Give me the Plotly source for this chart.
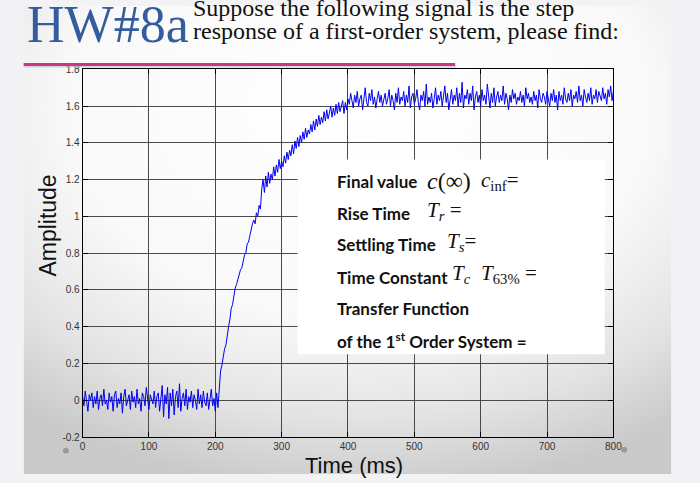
import base64
import plotly.graph_objects as go

# ---------------- data ----------------
time_step_ms = 2
baseline = [
    0.02, -0.03, 0.05, -0.01, -0.06, 0.03, 0.00, 0.04, -0.04, 0.02,
    -0.02, 0.05, -0.05, 0.01, 0.03, -0.03, 0.06, -0.02, 0.00, -0.05,
    0.04, -0.01, 0.02, -0.06, 0.03, 0.05, -0.04, 0.01, -0.02, 0.04,
    -0.07, 0.02, 0.06, -0.03, 0.00, 0.03, -0.05, 0.05, -0.01, 0.02,
    -0.04, 0.06, -0.02, 0.01, -0.06, 0.04, 0.02, -0.03, 0.07, -0.01,
    -0.05, 0.03, 0.00, -0.02, 0.05, -0.04, 0.02, 0.04, -0.06, 0.01,
    0.08, -0.09, 0.03, -0.02, 0.07, -0.10, 0.04, -0.03, 0.06, -0.08,
    0.02, 0.05, -0.04, 0.09, -0.06, 0.01, 0.04, -0.03, 0.06, -0.05,
    0.02, -0.01, 0.05, -0.04, 0.03, 0.00, -0.05, 0.06, -0.02, 0.03,
    -0.04, 0.05, -0.01, -0.03, 0.04, -0.05, 0.02, 0.06, -0.03, 0.01,
    -0.06, 0.04, -0.04,
]
rise = [
    0.10, 0.16, 0.19, 0.25, 0.28, 0.30, 0.36, 0.40, 0.44, 0.50,
    0.52, 0.58, 0.61, 0.63, 0.66, 0.68, 0.71, 0.72, 0.76, 0.79,
    0.80, 0.85, 0.86, 0.90, 0.93, 0.96, 0.98, 0.96, 1.02, 1.00,
    1.06, 1.04, 1.15,
]
approach = [
    1.20, 1.13, 1.22, 1.16, 1.24, 1.18, 1.23, 1.20, 1.27, 1.22,
    1.28, 1.24, 1.31, 1.26, 1.30, 1.27, 1.33, 1.29, 1.35, 1.31,
    1.36, 1.33, 1.39, 1.34, 1.41, 1.37, 1.43, 1.38, 1.44, 1.40,
    1.46, 1.42, 1.48, 1.43, 1.47, 1.45, 1.50, 1.46, 1.52, 1.47,
    1.53, 1.49, 1.55, 1.50, 1.54, 1.51, 1.57, 1.52, 1.58, 1.53,
    1.56, 1.60, 1.54, 1.59, 1.55, 1.61, 1.56, 1.62, 1.57, 1.60,
    1.63, 1.56, 1.62, 1.58, 1.64,
]
plateau = [
    1.61, 1.67, 1.63, 1.59, 1.66, 1.62, 1.68, 1.60, 1.64, 1.66,
    1.58, 1.65, 1.70, 1.62, 1.60, 1.67, 1.63, 1.69, 1.61, 1.65,
    1.59, 1.64, 1.68, 1.62, 1.66, 1.60, 1.63, 1.67, 1.61, 1.64,
    1.69, 1.60, 1.66, 1.63, 1.58, 1.67, 1.62, 1.70, 1.61, 1.65,
    1.63, 1.68, 1.60, 1.66, 1.62, 1.71, 1.59, 1.65, 1.67, 1.61,
    1.64, 1.69, 1.62, 1.58, 1.66, 1.63, 1.68, 1.60, 1.72, 1.61,
    1.65, 1.62, 1.67, 1.59, 1.64, 1.70, 1.61, 1.66, 1.63, 1.68,
    1.60, 1.65, 1.71, 1.62, 1.67, 1.58, 1.64, 1.69, 1.61, 1.66,
    1.63, 1.70, 1.60, 1.67, 1.62, 1.73, 1.59, 1.66, 1.64, 1.69,
    1.61, 1.67, 1.63, 1.71, 1.58, 1.65, 1.68, 1.62, 1.66, 1.60,
    1.69, 1.63, 1.66, 1.61, 1.72, 1.64, 1.59, 1.67, 1.62, 1.70,
    1.60, 1.65, 1.68, 1.62, 1.66, 1.63, 1.71, 1.61, 1.67, 1.64,
    1.58, 1.66, 1.62, 1.69, 1.64, 1.67, 1.61, 1.65, 1.63, 1.68,
    1.62, 1.66, 1.60, 1.70, 1.64, 1.67, 1.62, 1.65, 1.61, 1.68,
    1.63, 1.66, 1.59, 1.69, 1.64, 1.62, 1.67, 1.65, 1.61, 1.68,
    1.64, 1.60, 1.67, 1.63, 1.69, 1.62, 1.66, 1.58, 1.68, 1.63,
    1.66, 1.61, 1.70, 1.64, 1.62, 1.67, 1.63, 1.69, 1.60, 1.66,
    1.64, 1.68, 1.62, 1.71, 1.63, 1.66, 1.60, 1.69, 1.65, 1.62,
    1.67, 1.63, 1.70, 1.61, 1.66, 1.64, 1.69, 1.62, 1.68, 1.65,
    1.63, 1.70, 1.64, 1.67, 1.61, 1.69, 1.65, 1.71, 1.63, 1.68,
]
amplitude = baseline + rise + approach + plateau
time_ms = [i * time_step_ms for i in range(len(amplitude))]

x_ticks = [0, 100, 200, 300, 400, 500, 600, 700, 800]
x_ticklabels = ["0", "100", "200", "300", "400", "500", "600", "700", "800"]
y_ticks = [-0.2, 0, 0.2, 0.4, 0.6, 0.8, 1.0, 1.2, 1.4, 1.6, 1.8]
y_ticklabels = ["-0.2", "0", "0.2", "0.4", "0.6", "0.8", "1", "1.2", "1.4", "1.6", "1.8"]

# ---------------- layout helpers ----------------
W, H = 700, 483


def PX(x):
    return x / W


def PY(y):
    return 1 - y / H


svg = (
    '<svg xmlns="http://www.w3.org/2000/svg" width="659" height="480">'
    '<defs><radialGradient id="g" cx="0.52" cy="0.22" r="0.82">'
    '<stop offset="0" stop-color="#ffffff"/>'
    '<stop offset="0.55" stop-color="#f9f9f9"/>'
    '<stop offset="0.8" stop-color="#e4e4e4"/>'
    '<stop offset="1" stop-color="#cacaca"/>'
    '</radialGradient></defs>'
    '<rect width="659" height="480" fill="url(#g)"/></svg>'
)
svg_uri = "data:image/svg+xml;base64," + base64.b64encode(svg.encode()).decode()

fig = go.Figure()
fig.add_trace(go.Scatter(
    x=time_ms, y=amplitude, mode="lines",
    line=dict(color="#0000ee", width=1), hoverinfo="skip", showlegend=False,
))

axis_common = dict(
    showgrid=True, gridcolor="#4a4a4a", gridwidth=1,
    showline=True, linecolor="#000000", linewidth=1, mirror="ticks",
    ticks="inside", ticklen=5, tickcolor="#000000",
    tickfont=dict(family="Liberation Sans, Arial", size=10, color="#333333"),
    zeroline=False,
)

fig.update_layout(
    width=W, height=H,
    margin=dict(l=0, r=0, t=0, b=0),
    paper_bgcolor="#f3f3f5",
    plot_bgcolor="#ffffff",
    xaxis=dict(domain=[PX(81), PX(621)], range=[0, 800],
               tickvals=x_ticks, ticktext=x_ticklabels, **axis_common),
    yaxis=dict(domain=[PY(442), PY(65)], range=[-0.2, 1.8],
               tickvals=y_ticks, ticktext=y_ticklabels, **axis_common),
    images=[dict(source=svg_uri, xref="paper", yref="paper",
                 x=PX(21), y=PY(0), sizex=PX(680) - PX(21), sizey=PY(0) - PY(480),
                 xanchor="left", yanchor="top", sizing="stretch", layer="below")],
    showlegend=False,
)

shapes = [
    # white text panel hiding the grid
    dict(type="rect", xref="x", yref="y", x0=324, x1=787, y0=0.25, y1=1.31,
         fillcolor="#ffffff", line=dict(width=0), layer="between"),
    # pink underline of the title
    dict(type="line", xref="paper", yref="paper", x0=PX(22), x1=PX(461),
         y0=PY(62), y1=PY(62), line=dict(color="#b0b0b0", width=2), opacity=0.5),
    dict(type="line", xref="paper", yref="paper", x0=PX(21), x1=PX(460),
         y0=PY(60), y1=PY(60), line=dict(color="#c7388b", width=3)),
    # little grey handle dots
    dict(type="circle", xref="paper", yref="paper", x0=PX(61), x1=PX(67),
         y0=PY(453), y1=PY(459), fillcolor="#9a9a9a", line=dict(width=0)),
    dict(type="circle", xref="paper", yref="paper", x0=PX(629), x1=PX(635),
         y0=PY(452), y1=PY(458), fillcolor="#9a9a9a", line=dict(width=0)),
]
fig.update_layout(shapes=shapes)

serif = "Liberation Serif, Times New Roman, serif"
sans = "Liberation Sans, Arial, sans-serif"
bold_sans = "Lato, Noto Sans, sans-serif"

ann = []


def text(x, y, s, family, size, color="#111111", xanchor="left", yanchor="middle", angle=0):
    ann.append(dict(x=PX(x), y=PY(y), xref="paper", yref="paper", text=s,
                    showarrow=False, xanchor=xanchor, yanchor=yanchor, textangle=angle,
                    font=dict(family=family, size=size, color=color)))


# title area
text(22, 19, "HW#8a", serif, 52, color="#345c9e")
text(191, 2, "Suppose the following signal is the step", serif, 24, color="#111111")
text(191, 26, "response of a first-order system, please find:", serif, 24, color="#111111")

# axis titles
text(46, 225, "Amplitude", sans, 23, color="#111111", xanchor="center", angle=-90)
text(357, 471, "Time (ms)", sans, 22, color="#111111", xanchor="center")

# question panel
text(338, 180, "<b>Final value</b>", bold_sans, 17)
text(429, 179, "<i>c</i>(∞)", serif, 24)
text(484, 179, "<i>c</i><sub>inf</sub>=", serif, 21)
text(338, 213, "<b>Rise Time</b>", bold_sans, 17)
text(429, 210, "<i>T</i><sub><i>r</i></sub> =", serif, 21)
text(338, 245, "<b>Settling Time</b>", bold_sans, 17)
text(450, 242, "<i>T</i><sub><i>s</i></sub>=", serif, 21)
text(338, 278, "<b>Time Constant</b>", bold_sans, 17)
text(455, 275, "<i>T</i><sub><i>c</i></sub>", serif, 21)
text(484, 275, "<i>T</i><sub>63%</sub> =", serif, 21)
text(338, 310, "<b>Transfer Function</b>", bold_sans, 17)
text(338, 343, "<b>of the 1<sup>st</sup> Order System =</b>", bold_sans, 17)

fig.update_layout(annotations=ann)

post = (
    "document.documentElement.style.margin='0';"
    "document.documentElement.style.overflow='hidden';"
    "document.body.style.margin='0';"
    "document.body.style.padding='0';"
    "document.body.style.overflow='hidden';"
)
fig.write_html("out.html", config={"displayModeBar": False}, post_script=post)
